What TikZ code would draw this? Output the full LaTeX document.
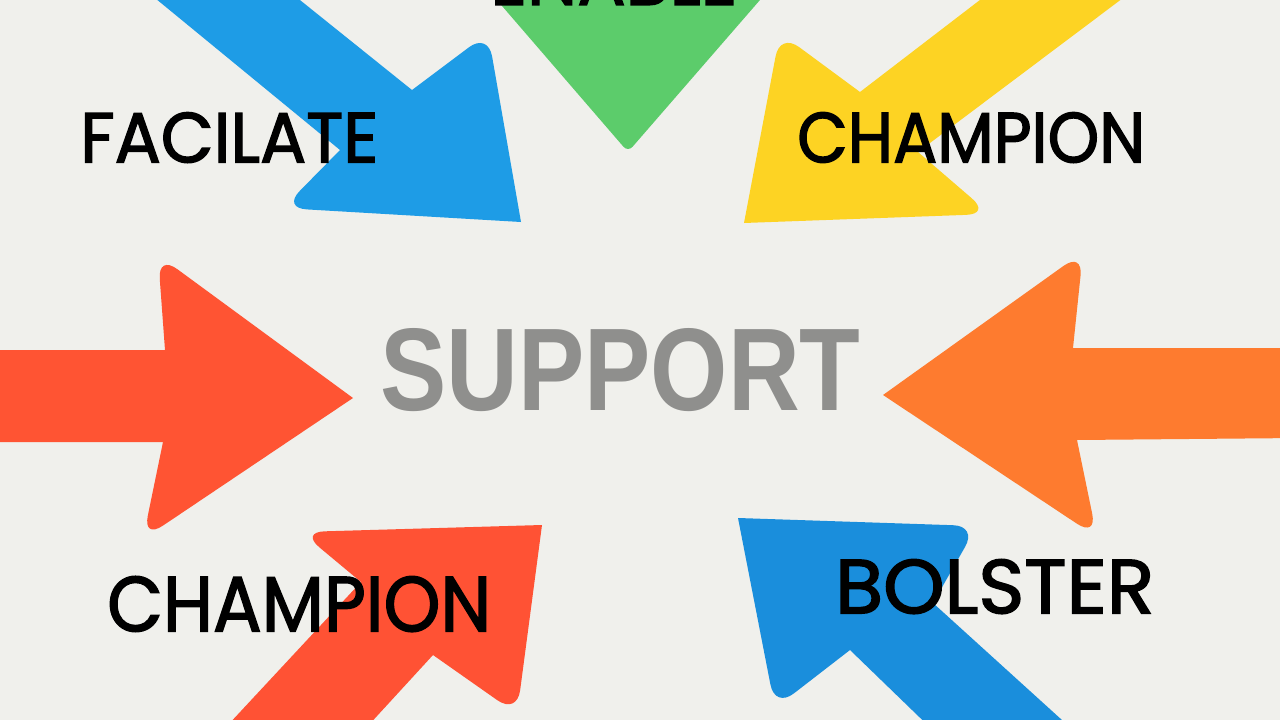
\documentclass[tikz,border=0pt]{standalone}
\usepackage{fontspec}
\usetikzlibrary{calc}
\newfontfamily\lblfont[FakeBold=2]{Poppins}
\newfontfamily\bigfont{Liberation Sans}
\definecolor{bg}{HTML}{F0F0EC}
\definecolor{cgreen}{HTML}{5CCC6B}
\definecolor{cblue}{HTML}{1E9CE6}
\definecolor{cbluedk}{HTML}{1A8EDC}
\definecolor{cyellow}{HTML}{FDD323}
\definecolor{credL}{HTML}{FF5433}
\definecolor{corange}{HTML}{FE7B2F}
\definecolor{credB}{HTML}{FF5234}
\definecolor{cgrey}{HTML}{8F8F8D}
\newcommand\rcor[5]{-- ($(#2)!#4!(#1)$) .. controls ($(#2)!#5!(#1)$) and ($(#2)!#5!(#3)$) .. ($(#2)!#4!(#3)$)}
\tikzset{
  lbl/.style={inner sep=0pt, anchor=south west, font=\lblfont, text=black},
  centre/.style={inner sep=0pt, anchor=south west, font=\bigfont\bfseries, text=cgrey}
}
\begin{document}
\begin{tikzpicture}[x=1pt,y=-1pt]
\useasboundingbox (0,0) rectangle (1280,720);
\fill[bg] (0,0) rectangle (1280,720);
\clip (0,0) rectangle (1280,720);

% green (top)
\fill[cgreen] (471,-30) -- (786,-30) \rcor{786,-30}{628,152}{471,-30}{7pt}{3pt} -- cycle;

% blue (top left)
\fill[cblue] (133,-20) -- (275,-20) -- (412,90) \rcor{412,90}{488,33}{521,222}{24pt}{10pt}
  -- (521,222) \rcor{521,222}{283,208}{340,150}{24pt}{10pt} -- (340,150) -- cycle;

% yellow (top right)
\fill[cyellow] (1006,-20) -- (1147,-20) -- (918,152) \rcor{918,152}{990,214}{744,223}{24pt}{10pt}
  -- (744,223) \rcor{744,223}{780,33}{860,92}{24pt}{10pt} -- (860,92) -- cycle;

% red (left)
\fill[credL] (-20,350) -- (165,350) \rcor{165,350}{158,255}{353,398}{24pt}{10pt}
  -- (353,398) \rcor{353,398}{143,539}{163,442}{24pt}{10pt} -- (163,442) -- (-20,442) -- cycle;

% orange (right)
\fill[corange] (1300,348) -- (1073,348) \rcor{1073,348}{1083,252}{883,395}{24pt}{10pt}
  -- (883,395) \rcor{883,395}{1097,537}{1077,440}{24pt}{10pt} -- (1077,440) -- (1300,438) -- cycle;

% red (bottom left)
\fill[credB] (214,740) -- (361,582) \rcor{361,582}{301,532}{542,525}{24pt}{10pt}
  -- (542,525) \rcor{542,525}{517,714}{433,655}{24pt}{10pt} -- (433,655) -- (355,740) -- cycle;

% blue (bottom right)
\fill[cbluedk] (738,518) \rcor{738,518}{977,526}{933,603}{24pt}{10pt} -- (933,603) -- (1084,740)
  -- (943,740) -- (850,650) \rcor{850,650}{775,708}{738,518}{24pt}{10pt} -- cycle;

% labels
\node[lbl] (enable) at (490,5) {\resizebox{247pt}{50pt}{ENABLE}};
\node[lbl] (facilate) at (80,163) {\resizebox{298pt}{50pt}{FACILATE}};
\node[lbl] (champtr) at (797,163) {\resizebox{348pt}{50pt}{CHAMPION}};
\node[lbl] (champbl) at (107,632) {\resizebox{384pt}{55pt}{CHAMPION}};
\node[lbl] (bolster) at (835,614) {\resizebox{319pt}{54pt}{BOLSTER}};
\node[centre] (support) at (380,412) {\resizebox{480pt}{82pt}{SUPPORT}};
\end{tikzpicture}
\end{document}
